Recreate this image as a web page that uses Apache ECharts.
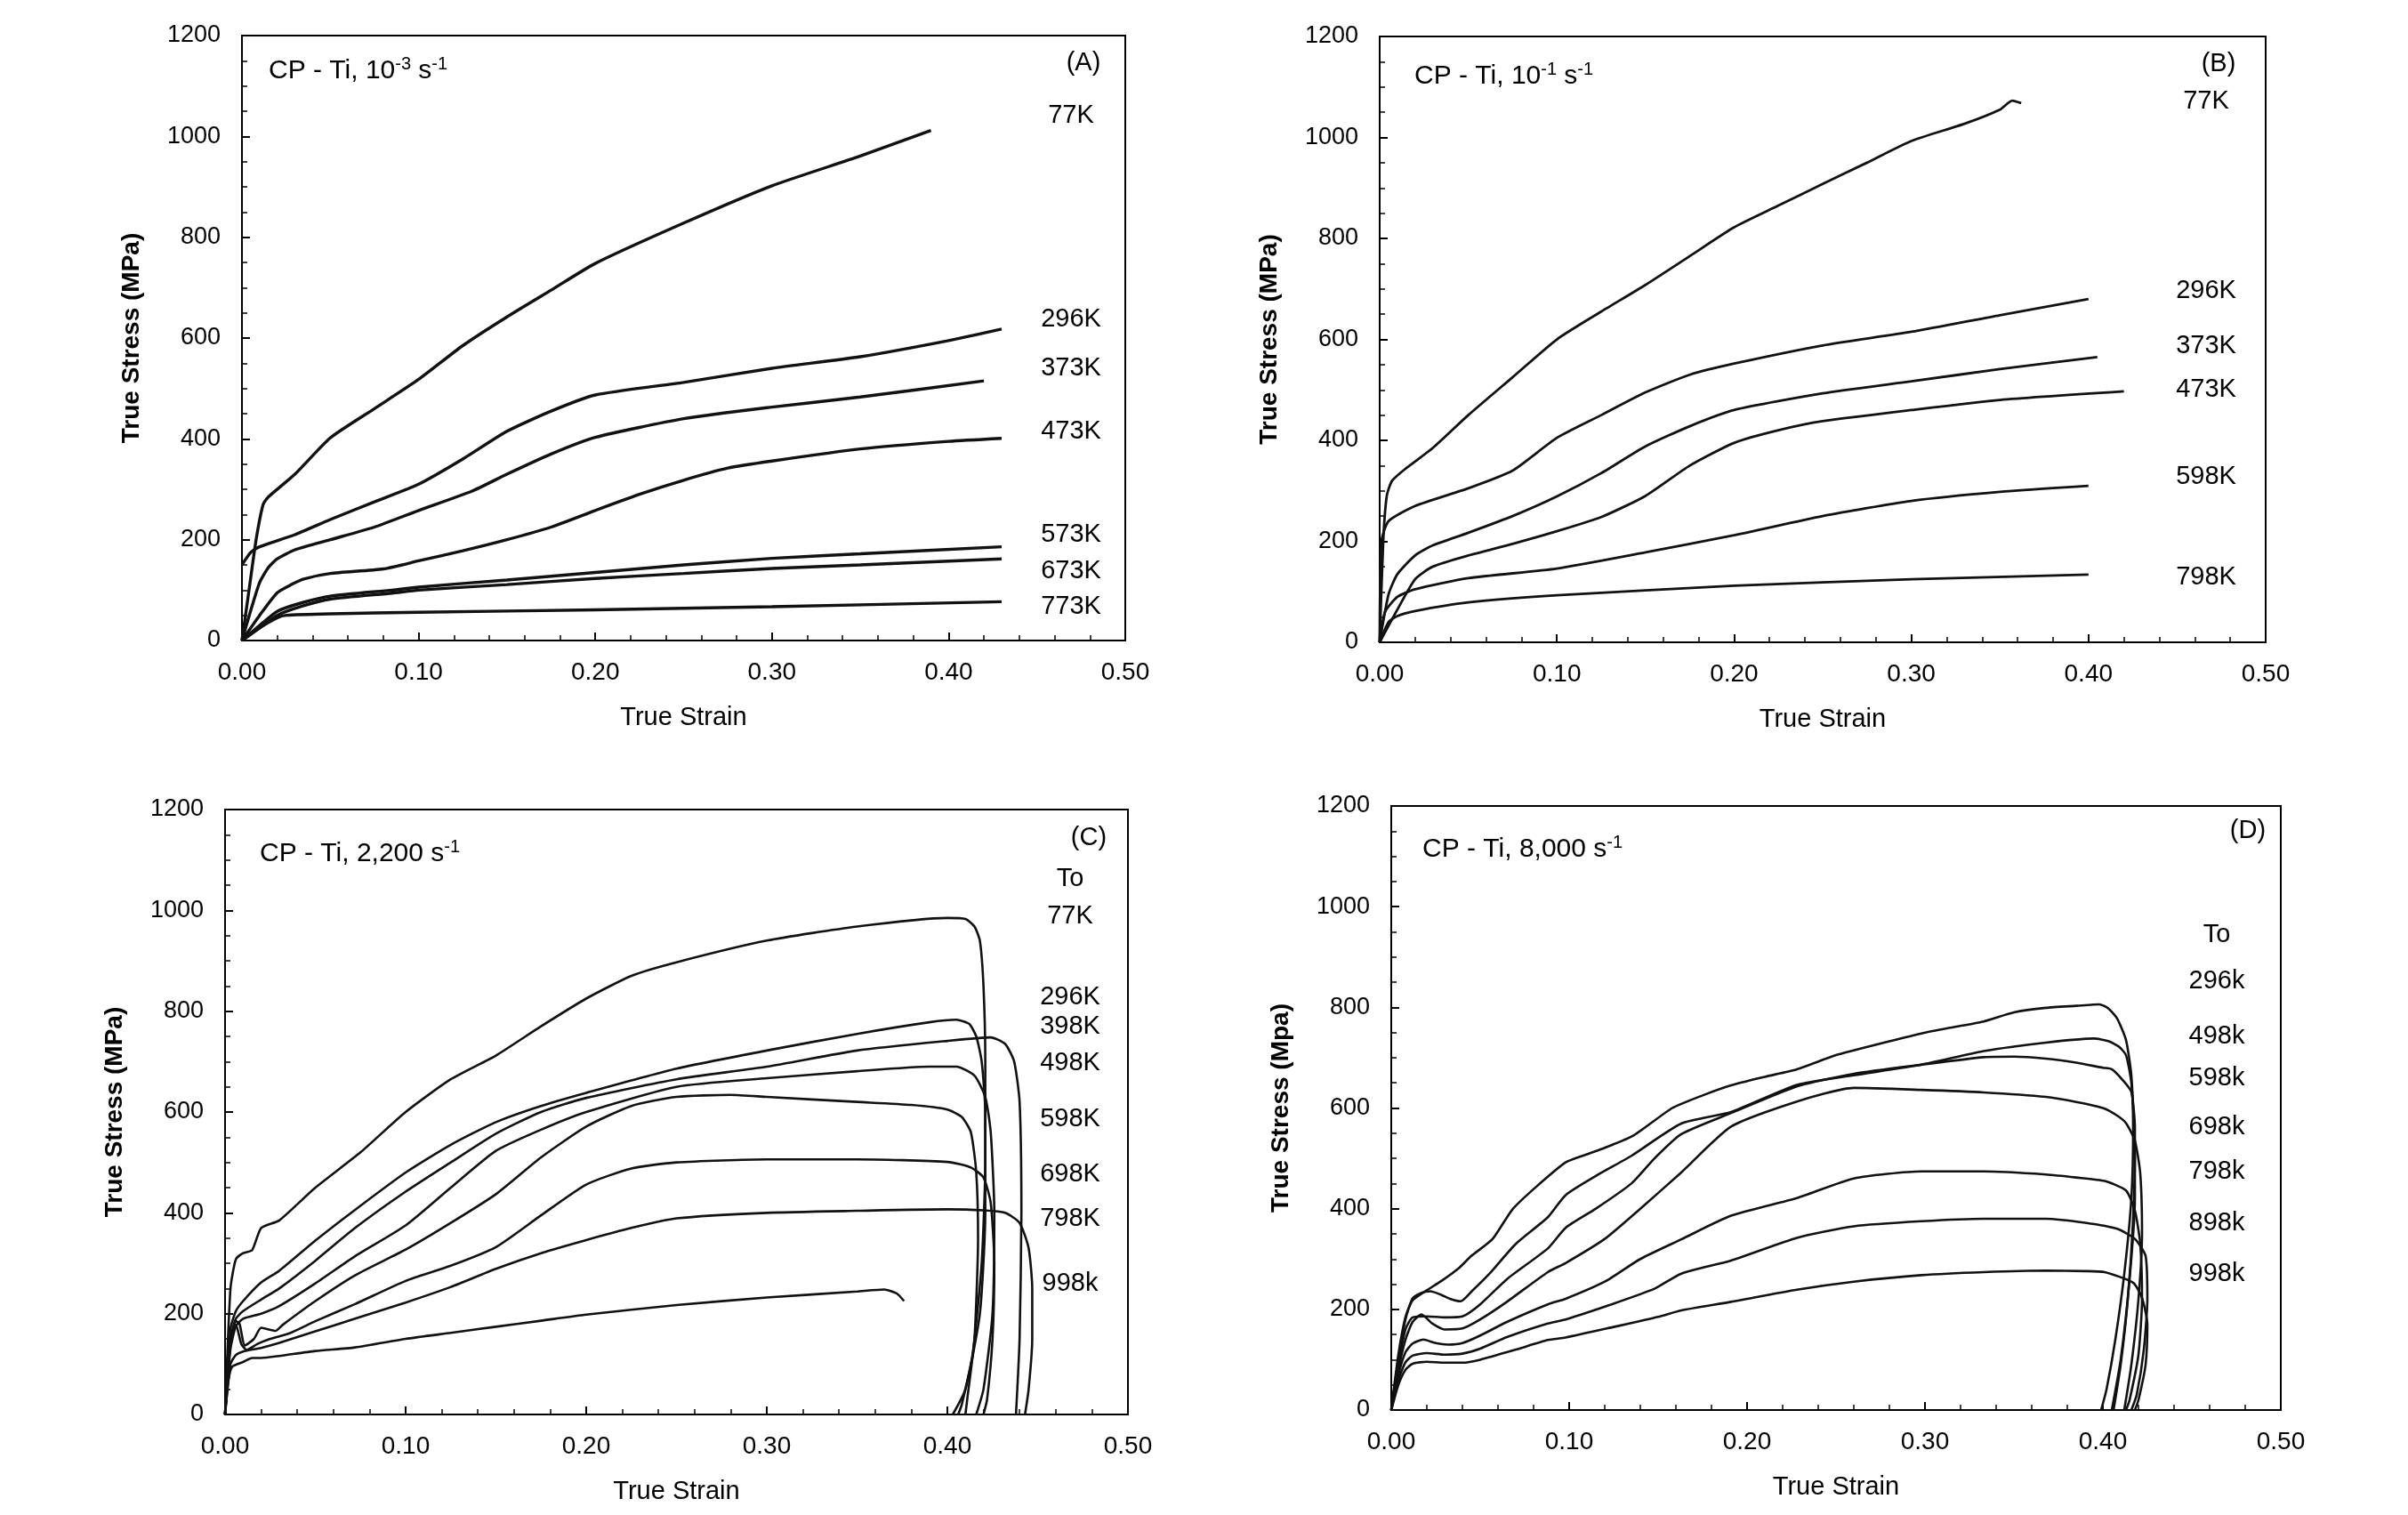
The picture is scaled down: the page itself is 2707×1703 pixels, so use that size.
<!DOCTYPE html>
<html>
<head>
<meta charset="utf-8">
<script src="https://cdn.jsdelivr.net/npm/echarts@6/dist/echarts.min.js"></script>
<style>
  html, body { margin: 0; background: #fff; }
  #chart { width: 2707px; height: 1703px; }
</style>
</head>
<body>
<div id="chart"></div>
<script>
// ---- data: [true strain, true stress (MPa)] ----

// (A) 10^-3 s^-1
const A_77K = [[0,0],[0.004,100],[0.008,200],[0.012,270],[0.015,285],[0.03,330],[0.05,402],[0.075,460],[0.10,518],[0.125,585],[0.15,642],[0.175,695],[0.20,748],[0.25,828],[0.30,902],[0.35,961],[0.39,1012]];
const A_296K = [[0,150],[0.005,175],[0.01,186],[0.03,210],[0.05,240],[0.075,275],[0.10,310],[0.125,360],[0.15,415],[0.175,455],[0.20,487],[0.25,512],[0.30,540],[0.35,563],[0.40,595],[0.43,618]];
const A_373K = [[0,0],[0.005,60],[0.01,115],[0.015,145],[0.02,162],[0.03,180],[0.05,200],[0.075,225],[0.10,258],[0.13,296],[0.15,330],[0.175,370],[0.20,403],[0.25,440],[0.30,463],[0.35,483],[0.42,515]];
const A_473K = [[0,0],[0.01,50],[0.02,95],[0.028,111],[0.035,122],[0.05,133],[0.08,142],[0.10,158],[0.125,178],[0.15,200],[0.175,225],[0.20,258],[0.225,290],[0.25,318],[0.275,342],[0.30,356],[0.35,380],[0.40,395],[0.43,401]];
const A_573K = [[0,0],[0.01,30],[0.02,58],[0.034,75],[0.05,88],[0.085,100],[0.10,106],[0.15,120],[0.20,135],[0.25,150],[0.30,163],[0.35,172],[0.43,186]];
const A_673K = [[0,0],[0.01,25],[0.02,50],[0.034,68],[0.05,82],[0.085,94],[0.10,100],[0.15,111],[0.20,123],[0.25,133],[0.30,143],[0.35,150],[0.43,162]];
const A_773K = [[0,0],[0.01,25],[0.02,45],[0.025,50],[0.05,53],[0.10,56],[0.20,61],[0.30,67],[0.43,77]];

// (B) 10^-1 s^-1
const B_77K = [[0,0],[0.002,200],[0.004,290],[0.007,320],[0.015,345],[0.03,385],[0.05,450],[0.075,525],[0.10,600],[0.125,655],[0.15,708],[0.175,765],[0.20,822],[0.225,865],[0.25,908],[0.275,950],[0.30,993],[0.33,1027],[0.35,1055],[0.357,1073],[0.362,1068]];
const B_296K = [[0,0],[0.001,200],[0.005,240],[0.02,270],[0.05,305],[0.075,340],[0.10,405],[0.125,450],[0.15,495],[0.175,530],[0.20,552],[0.25,588],[0.30,615],[0.35,648],[0.40,680]];
const B_373K = [[0,0],[0.005,95],[0.01,135],[0.02,172],[0.03,192],[0.05,217],[0.075,250],[0.10,289],[0.125,335],[0.15,388],[0.175,428],[0.20,460],[0.25,493],[0.30,517],[0.35,541],[0.405,565]];
const B_473K = [[0,0],[0.01,65],[0.02,125],[0.03,150],[0.05,172],[0.075,195],[0.10,220],[0.125,248],[0.15,290],[0.175,350],[0.20,395],[0.225,420],[0.25,438],[0.30,460],[0.35,480],[0.42,497]];
const B_598K = [[0,0],[0.003,60],[0.01,90],[0.02,105],[0.05,127],[0.10,146],[0.15,178],[0.20,212],[0.25,250],[0.30,280],[0.35,298],[0.40,310]];
const B_798K = [[0,0],[0.005,40],[0.01,52],[0.02,62],[0.05,79],[0.10,93],[0.20,112],[0.30,125],[0.40,134]];

// (C) 2,200 s^-1
const C_77K = [[0,0],[0.003,250],[0.006,308],[0.01,320],[0.015,326],[0.02,370],[0.03,385],[0.05,450],[0.075,520],[0.10,600],[0.125,665],[0.15,712],[0.175,770],[0.20,825],[0.225,870],[0.25,897],[0.30,940],[0.35,968],[0.40,985],[0.41,983],[0.415,968],[0.418,940],[0.420,850],[0.421,700],[0.421,500],[0.419,300],[0.414,120],[0.408,20],[0.406,0]];
const C_296K = [[0,0],[0.003,170],[0.006,205],[0.01,225],[0.02,262],[0.03,285],[0.05,345],[0.072,406],[0.10,480],[0.125,535],[0.15,580],[0.175,612],[0.20,638],[0.25,686],[0.30,722],[0.35,755],[0.39,778],[0.405,783],[0.412,775],[0.416,750],[0.419,700],[0.421,600],[0.421,400],[0.418,200],[0.41,50],[0.403,0]];
const C_398K = [[0,0],[0.003,150],[0.006,190],[0.01,205],[0.02,228],[0.03,250],[0.05,305],[0.072,370],[0.10,442],[0.125,500],[0.15,557],[0.175,600],[0.20,628],[0.25,665],[0.30,690],[0.35,722],[0.40,741],[0.424,748],[0.432,735],[0.437,700],[0.440,620],[0.441,400],[0.440,150],[0.438,0]];
const C_498K = [[0,0],[0.003,130],[0.006,175],[0.01,190],[0.02,200],[0.03,215],[0.05,260],[0.072,314],[0.10,375],[0.125,450],[0.15,523],[0.175,565],[0.20,600],[0.25,650],[0.30,667],[0.35,681],[0.39,690],[0.405,690],[0.415,672],[0.421,630],[0.424,560],[0.426,400],[0.425,200],[0.420,50],[0.416,0]];
const C_598K = [[0,0],[0.003,140],[0.006,185],[0.008,180],[0.011,137],[0.016,150],[0.02,172],[0.028,166],[0.032,178],[0.05,225],[0.072,276],[0.10,327],[0.125,380],[0.15,437],[0.175,510],[0.20,571],[0.225,612],[0.25,630],[0.28,634],[0.30,630],[0.35,620],[0.38,614],[0.40,605],[0.408,590],[0.413,560],[0.416,480],[0.417,350],[0.415,150],[0.411,30],[0.410,0]];
const C_698K = [[0,0],[0.003,150],[0.006,178],[0.009,140],[0.012,128],[0.018,140],[0.025,150],[0.035,160],[0.05,185],[0.072,219],[0.10,265],[0.125,295],[0.15,332],[0.175,395],[0.20,456],[0.225,488],[0.25,500],[0.30,506],[0.35,506],[0.40,501],[0.413,490],[0.42,470],[0.424,420],[0.426,300],[0.425,150],[0.422,30],[0.420,0]];
const C_798K = [[0,0],[0.003,100],[0.006,118],[0.01,125],[0.02,132],[0.03,142],[0.05,165],[0.072,190],[0.10,222],[0.125,253],[0.15,289],[0.175,320],[0.20,346],[0.225,370],[0.25,389],[0.30,400],[0.35,404],[0.40,407],[0.42,405],[0.432,400],[0.44,380],[0.445,330],[0.447,250],[0.447,150],[0.445,50],[0.443,0]];
const C_998k = [[0,0],[0.002,70],[0.004,95],[0.01,104],[0.015,112],[0.02,112],[0.03,116],[0.05,126],[0.072,133],[0.10,150],[0.125,162],[0.15,174],[0.175,186],[0.20,198],[0.25,217],[0.30,232],[0.35,244],[0.365,248],[0.372,240],[0.376,225]];

// (D) 8,000 s^-1
const D_296k = [[0,0],[0.004,110],[0.008,185],[0.012,218],[0.02,238],[0.028,256],[0.038,282],[0.045,306],[0.057,340],[0.068,398],[0.081,442],[0.098,492],[0.11,508],[0.12,521],[0.136,545],[0.158,600],[0.175,625],[0.191,645],[0.21,662],[0.228,677],[0.25,705],[0.275,728],[0.298,748],[0.315,760],[0.333,772],[0.35,790],[0.368,799],[0.385,803],[0.398,806],[0.403,798],[0.408,778],[0.413,735],[0.416,665],[0.417,560],[0.416,420],[0.412,270],[0.407,140],[0.402,40],[0.399,0]];
const D_498k = [[0,0],[0.004,100],[0.008,180],[0.012,222],[0.017,233],[0.022,236],[0.028,229],[0.033,221],[0.039,216],[0.045,235],[0.055,270],[0.07,330],[0.088,383],[0.098,427],[0.115,465],[0.135,505],[0.163,569],[0.191,592],[0.228,646],[0.26,665],[0.298,686],[0.333,713],[0.368,730],[0.395,738],[0.403,733],[0.409,722],[0.413,705],[0.416,650],[0.418,520],[0.417,380],[0.414,220],[0.41,90],[0.406,0]];
const D_598k = [[0,0],[0.004,90],[0.008,160],[0.012,184],[0.02,186],[0.03,184],[0.04,186],[0.05,210],[0.065,260],[0.088,321],[0.098,362],[0.115,400],[0.135,450],[0.148,500],[0.163,548],[0.191,590],[0.228,643],[0.26,668],[0.298,686],[0.333,701],[0.35,702],[0.368,698],[0.385,690],[0.40,680],[0.405,677],[0.411,656],[0.416,632],[0.418,560],[0.418,420],[0.415,260],[0.41,100],[0.405,0]];
const D_698k = [[0,0],[0.004,80],[0.008,140],[0.012,175],[0.017,190],[0.023,172],[0.03,160],[0.04,162],[0.05,180],[0.065,215],[0.088,274],[0.098,292],[0.12,340],[0.14,400],[0.163,472],[0.191,563],[0.228,613],[0.26,640],[0.298,636],[0.333,631],[0.368,622],[0.385,612],[0.40,600],[0.408,585],[0.413,570],[0.418,535],[0.421,470],[0.422,350],[0.42,220],[0.416,90],[0.412,0]];
const D_798k = [[0,0],[0.004,70],[0.008,115],[0.012,132],[0.018,140],[0.025,133],[0.032,130],[0.04,133],[0.05,148],[0.065,175],[0.088,210],[0.098,221],[0.12,255],[0.14,300],[0.163,339],[0.191,386],[0.228,421],[0.26,460],[0.298,474],[0.333,474],[0.368,468],[0.385,462],[0.401,455],[0.413,436],[0.418,396],[0.421,330],[0.422,220],[0.42,110],[0.415,20],[0.413,0]];
const D_898k = [[0,0],[0.004,60],[0.008,95],[0.012,108],[0.02,113],[0.03,110],[0.04,112],[0.05,122],[0.065,145],[0.088,172],[0.098,180],[0.123,209],[0.148,241],[0.163,271],[0.191,297],[0.228,342],[0.26,365],[0.298,375],[0.333,380],[0.368,380],[0.39,372],[0.408,360],[0.418,340],[0.424,306],[0.425,220],[0.423,120],[0.419,30],[0.416,0]];
const D_998k = [[0,0],[0.004,50],[0.008,80],[0.012,92],[0.02,96],[0.03,94],[0.04,94],[0.05,100],[0.07,120],[0.088,139],[0.098,144],[0.125,165],[0.15,185],[0.163,198],[0.191,215],[0.228,239],[0.26,255],[0.298,268],[0.333,274],[0.368,277],[0.39,276],[0.401,274],[0.417,253],[0.422,223],[0.425,170],[0.424,90],[0.42,20],[0.418,0]];

// curve labels (temperatures) per panel
const A_labels = ['77K', '296K', '373K', '473K', '573K', '673K', '773K'];
const B_labels = ['77K', '296K', '373K', '473K', '598K', '798K'];
const C_labels = ['To', '77K', '296K', '398K', '498K', '598K', '698K', '798K', '998k'];
const D_labels = ['To', '296k', '498k', '598k', '698k', '798k', '898k', '998k'];

// ---- layout ----
const FONT = '"Liberation Sans", Arial, sans-serif';
const panels = [
  { grid: { left: 272, top: 40, width: 993, height: 680 }, curves: [A_77K, A_296K, A_373K, A_473K, A_573K, A_673K, A_773K],
    lw: 3.4, yName: 'True Stress (MPa)',
    title: '{a|CP - Ti, 10}{s|-3}{a| s}{s|-1}', titlePos: [302, 62],
    tag: '(A)', tagPos: [1218, 71],
    labels: A_labels, labelX: 1204, labelY: [130, 359, 414, 485, 601, 642, 682] },
  { grid: { left: 1551, top: 41, width: 996, height: 681 }, curves: [B_77K, B_296K, B_373K, B_473K, B_598K, B_798K],
    lw: 2.8, yName: 'True Stress (MPa)',
    title: '{a|CP - Ti, 10}{s|-1}{a| s}{s|-1}', titlePos: [1590, 68],
    tag: '(B)', tagPos: [2494, 72],
    labels: B_labels, labelX: 2480, labelY: [114, 327, 389, 438, 536, 649] },
  { grid: { left: 253, top: 910, width: 1015, height: 680 }, curves: [C_77K, C_296K, C_398K, C_498K, C_598K, C_698K, C_798K, C_998k],
    lw: 2.6, yName: 'True Stress (MPa)',
    title: '{a|CP - Ti, 2,200 s}{s|-1}', titlePos: [292, 942],
    tag: '(C)', tagPos: [1224, 942],
    labels: C_labels, labelX: 1203, labelY: [988, 1030, 1121, 1154, 1195, 1258, 1320, 1370, 1443] },
  { grid: { left: 1564, top: 906, width: 1000, height: 679 }, curves: [D_296k, D_498k, D_598k, D_698k, D_798k, D_898k, D_998k],
    lw: 2.6, yName: 'True Stress (Mpa)',
    title: '{a|CP - Ti, 8,000 s}{s|-1}', titlePos: [1599, 937],
    tag: '(D)', tagPos: [2527, 934],
    labels: D_labels, labelX: 2492, labelY: [1051, 1103, 1165, 1212, 1267, 1317, 1375, 1432] }
];

const chart = echarts.init(document.getElementById('chart'), null, { renderer: 'canvas' });

const grids = [], xAxes = [], yAxes = [], series = [], titles = [], graphics = [];
const tickStyle = { color: '#000', width: 2 };

panels.forEach((p, i) => {
  grids.push(Object.assign({ show: true, borderColor: '#000', borderWidth: 2, backgroundColor: 'transparent' }, p.grid));
  xAxes.push({
    type: 'value', gridIndex: i, min: 0, max: 0.5, interval: 0.1,
    name: 'True Strain', nameLocation: 'middle', nameGap: 72,
    nameTextStyle: { fontSize: 29, fontFamily: FONT, color: '#000' },
    axisLine: { show: true, onZero: false, lineStyle: tickStyle },
    axisTick: { show: true, inside: true, length: 9, lineStyle: tickStyle },
    minorTick: { show: true, splitNumber: 5, length: 6, lineStyle: { color: '#000', width: 1.5 } },
    splitLine: { show: false },
    axisLabel: { fontSize: 28, fontFamily: FONT, color: '#000', margin: 22, formatter: v => v.toFixed(2) }
  });
  yAxes.push({
    type: 'value', gridIndex: i, min: 0, max: 1200, interval: 200,
    name: p.yName, nameLocation: 'middle', nameGap: 110,
    nameTextStyle: { fontSize: 28, fontWeight: 'bold', fontFamily: FONT, color: '#000' },
    axisLine: { show: true, onZero: false, lineStyle: tickStyle },
    axisTick: { show: true, inside: true, length: 9, lineStyle: tickStyle },
    minorTick: { show: true, splitNumber: 4, length: 6, lineStyle: { color: '#000', width: 1.5 } },
    splitLine: { show: false },
    axisLabel: { fontSize: 27, fontFamily: FONT, color: '#000', margin: 24, formatter: v => String(v) }
  });
  p.curves.forEach(c => {
    series.push({
      type: 'line', xAxisIndex: i, yAxisIndex: i, data: c,
      showSymbol: false, smooth: 0.2, silent: true,
      lineStyle: { color: '#111', width: p.lw }
    });
  });
  titles.push({
    left: p.titlePos[0], top: p.titlePos[1], padding: 0,
    text: p.title,
    textStyle: {
      fontWeight: 'normal',
      rich: {
        a: { fontSize: 30, fontWeight: 'normal', fontFamily: FONT, color: '#000', lineHeight: 36 },
        s: { fontSize: 20, fontWeight: 'normal', fontFamily: FONT, color: '#000', lineHeight: 36, verticalAlign: 'top' }
      }
    }
  });
  const txt = (s, x, y) => ({
    type: 'text', x: x, y: y, silent: true,
    style: { text: s, fontSize: 29, fontFamily: FONT, fill: '#000',
             textAlign: 'center', textVerticalAlign: 'middle', align: 'center', verticalAlign: 'middle' }
  });
  graphics.push(txt(p.tag, p.tagPos[0], p.tagPos[1]));
  p.labels.forEach((s, k) => graphics.push(txt(s, p.labelX, p.labelY[k])));
});

chart.setOption({
  animation: false,
  backgroundColor: '#fff',
  title: titles,
  grid: grids,
  xAxis: xAxes,
  yAxis: yAxes,
  series: series,
  graphic: graphics
});
</script>
</body>
</html>
